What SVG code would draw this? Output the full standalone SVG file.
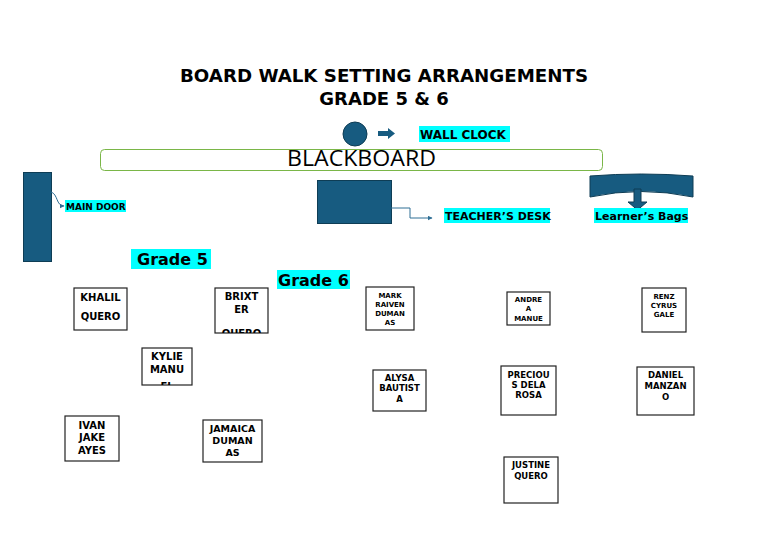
<svg xmlns="http://www.w3.org/2000/svg" width="768" height="543" viewBox="0 0 768 543">
<style>
  .t{font-family:"DejaVu Sans","Liberation Sans",sans-serif;font-weight:bold;fill:#000}
  .hl{fill:#00ffff}
  .blue{fill:#175b80;stroke:#0e3d55;stroke-width:1}
  .seat{fill:#fff;stroke:#222;stroke-width:1.2}
  .c{text-anchor:middle}
  .conn{fill:none;stroke:#2f6f95;stroke-width:1}
</style>
<defs>
  <marker id="ah" viewBox="0 0 10 10" refX="9" refY="5" markerWidth="5" markerHeight="5" orient="auto">
    <path d="M0,0 L10,5 L0,10 z" fill="#2f6f95"/>
  </marker>
  <clipPath id="cBrix"><rect x="215" y="288" width="53" height="45"/></clipPath>
  <clipPath id="cKyl"><rect x="142" y="348" width="50" height="37"/></clipPath>
</defs>
<rect width="768" height="543" fill="#fff"/>

<g id="title">
  <text class="t c" x="384" y="82" font-size="18" textLength="408" lengthAdjust="spacingAndGlyphs">BOARD WALK SETTING ARRANGEMENTS</text>
  <text class="t c" x="384" y="105" font-size="18">GRADE 5 &amp; 6</text>
</g>

<g id="wallclock">
  <circle cx="355" cy="134" r="12" class="blue"/>
  <path d="M378,131 L388,131 L388,128 L395,133.5 L388,139 L388,136 L378,136 z" fill="#175b80"/>
  <rect class="hl" x="419" y="126" width="91" height="16"/>
  <text class="t" x="420" y="138.5" font-size="12">WALL CLOCK</text>
</g>

<g id="blackboard">
  <rect x="100.5" y="149.5" width="502" height="21" rx="4" fill="#fff" stroke="#7ab648" stroke-width="1"/>
  <text x="287" y="166" font-family="Open Sans,Noto Sans,sans-serif" font-size="21" textLength="149" lengthAdjust="spacingAndGlyphs" fill="#000">BLACKBOARD</text>
</g>

<g id="maindoor">
  <rect x="23.5" y="172.5" width="28" height="89" class="blue"/>
  <rect class="hl" x="65" y="200" width="61" height="12"/>
  <text class="t" x="66" y="209.5" font-size="9">MAIN DOOR</text>
</g>

<g id="teachersdesk">
  <rect x="317.5" y="180.5" width="74" height="43" class="blue"/>
  <rect class="hl" x="444" y="208" width="106" height="15"/>
  <text class="t" x="445" y="219.5" font-size="11">TEACHER’S DESK</text>
</g>

<g id="learnersbags">
  <path d="M590,176 Q641,172 693,176 L693,197 Q641,186 590,197 z" class="blue"/>
  <path d="M634,189 L641,189 L641,202 L647,202 L637.5,210 L628,202 L634,202 z" class="blue"/>
  <rect class="hl" x="594" y="208" width="94" height="15"/>
  <text class="t" x="595" y="219.5" font-size="11">Learner’s Bags</text>
</g>

<g id="connectors">
  <path class="conn" d="M51,192 C58,194 56,206 64,206" marker-end="url(#ah)"/>
  <path class="conn" d="M391,208 L410,208 L410,218 L432,218" marker-end="url(#ah)"/>
</g>

<g id="grade5">
  <rect class="hl" x="131" y="249" width="80" height="20"/>
  <text class="t" x="137" y="265" font-size="16">Grade 5</text>
</g>
<g id="grade6">
  <rect class="hl" x="277" y="270" width="73" height="19"/>
  <text class="t" x="278" y="286" font-size="16">Grade 6</text>
</g>

<g id="khalil">
  <rect class="seat" x="74" y="288" width="53" height="42"/>
  <text class="t c" x="100.5" y="301" font-size="10">KHALIL</text>
  <text class="t c" x="100.5" y="320" font-size="10">QUERO</text>
</g>
<g id="brixter">
  <rect class="seat" x="215" y="288" width="53" height="45"/>
  <g clip-path="url(#cBrix)">
    <text class="t c" x="241.5" y="300" font-size="10">BRIXT</text>
    <text class="t c" x="241.5" y="313" font-size="10">ER</text>
    <text class="t c" x="241.5" y="337" font-size="10">QUERO</text>
  </g>
</g>
<g id="kylie">
  <rect class="seat" x="142" y="348" width="50" height="37"/>
  <g clip-path="url(#cKyl)">
    <text class="t c" x="167" y="360" font-size="10">KYLIE</text>
    <text class="t c" x="167" y="373" font-size="10">MANU</text>
    <text class="t c" x="167" y="390" font-size="10">EL</text>
  </g>
</g>
<g id="ivan">
  <rect class="seat" x="65" y="416" width="54" height="45"/>
  <text class="t c" x="92" y="429" font-size="10">IVAN</text>
  <text class="t c" x="92" y="441" font-size="10">JAKE</text>
  <text class="t c" x="92" y="454" font-size="10">AYES</text>
</g>
<g id="jamaica">
  <rect class="seat" x="203" y="420" width="59" height="42"/>
  <text class="t c" x="232.5" y="432" font-size="9.5">JAMAICA</text>
  <text class="t c" x="232.5" y="444" font-size="9.5">DUMAN</text>
  <text class="t c" x="232.5" y="456" font-size="9.5">AS</text>
</g>

<g id="mark">
  <rect class="seat" x="366" y="287" width="48" height="43"/>
  <text class="t c" x="390" y="298" font-size="7">MARK</text>
  <text class="t c" x="390" y="307" font-size="7">RAIVEN</text>
  <text class="t c" x="390" y="316" font-size="7">DUMAN</text>
  <text class="t c" x="390" y="325" font-size="7">AS</text>
</g>
<g id="andre">
  <rect class="seat" x="507" y="292" width="43" height="33"/>
  <text class="t c" x="528.5" y="302" font-size="7">ANDRE</text>
  <text class="t c" x="528.5" y="311" font-size="7">A</text>
  <text class="t c" x="528.5" y="321" font-size="7">MANUE</text>
</g>
<g id="renz">
  <rect class="seat" x="642" y="288" width="44" height="44"/>
  <text class="t c" x="664" y="299" font-size="7">RENZ</text>
  <text class="t c" x="664" y="308" font-size="7">CYRUS</text>
  <text class="t c" x="664" y="317" font-size="7">GALE</text>
</g>
<g id="alysa">
  <rect class="seat" x="373" y="370" width="53" height="41"/>
  <text class="t c" x="399.5" y="381" font-size="8.5">ALYSA</text>
  <text class="t c" x="399.5" y="391" font-size="8.5">BAUTIST</text>
  <text class="t c" x="399.5" y="402" font-size="8.5">A</text>
</g>
<g id="precious">
  <rect class="seat" x="501" y="366" width="55" height="49"/>
  <text class="t c" x="528.5" y="378" font-size="8.5">PRECIOU</text>
  <text class="t c" x="528.5" y="388" font-size="8.5">S DELA</text>
  <text class="t c" x="528.5" y="398" font-size="8.5">ROSA</text>
</g>
<g id="daniel">
  <rect class="seat" x="637" y="367" width="57" height="48"/>
  <text class="t c" x="665.5" y="378" font-size="8.5">DANIEL</text>
  <text class="t c" x="665.5" y="389" font-size="8.5">MANZAN</text>
  <text class="t c" x="665.5" y="400" font-size="8.5">O</text>
</g>
<g id="justine">
  <rect class="seat" x="504" y="457" width="54" height="46"/>
  <text class="t c" x="531" y="468" font-size="8.5">JUSTINE</text>
  <text class="t c" x="531" y="479" font-size="8.5">QUERO</text>
</g>
</svg>
